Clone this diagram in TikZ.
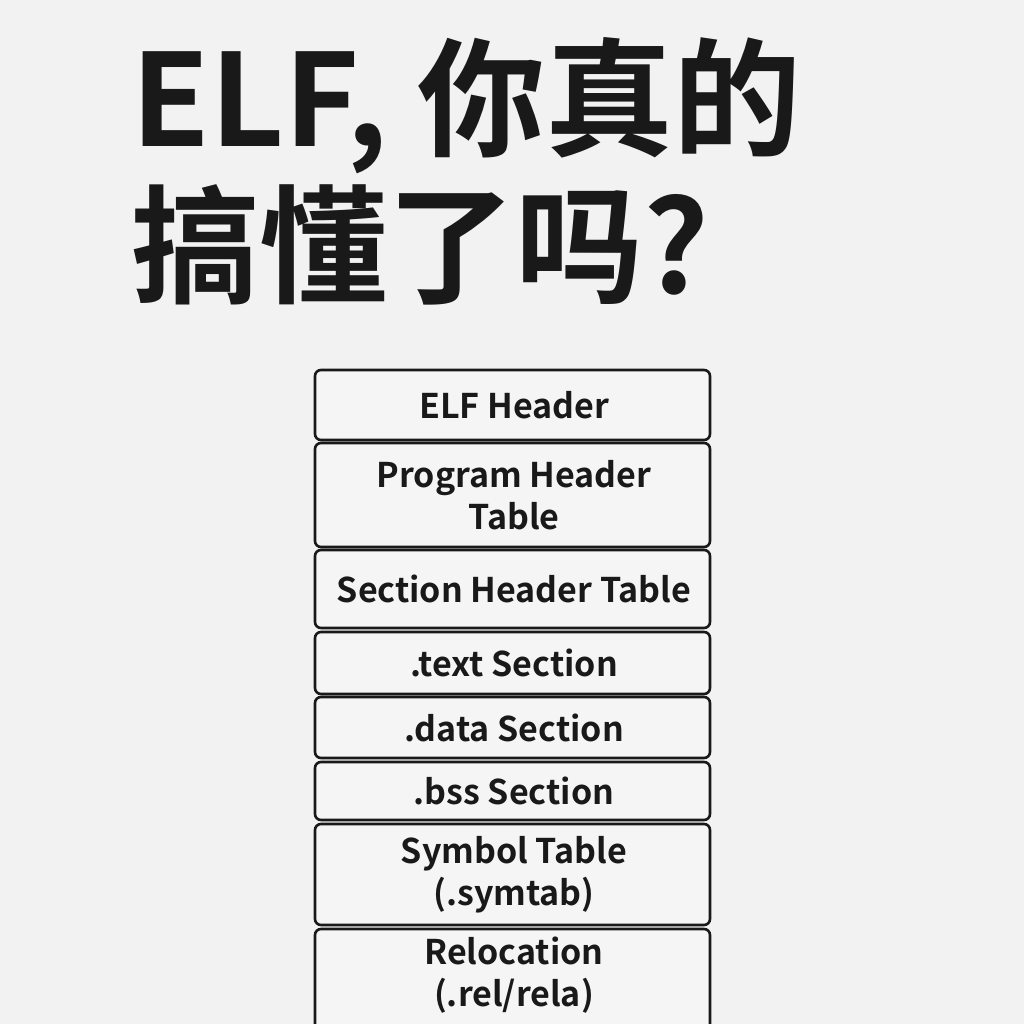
\documentclass[tikz,border=0pt]{standalone}
\usepackage{fontspec}
\setmainfont{Noto Sans CJK SC}[BoldFont={* Bold}]
\newfontfamily\cjkb{Noto Sans CJK SC Bold}
\begin{document}
\begin{tikzpicture}[x=1pt,y=-1pt,
  seg/.style={draw=black!90,line width=2.6pt,rounded corners=6pt,fill=white!96!black},
  lbl/.style={font=\cjkb\fontsize{34}{42}\selectfont,align=center,text=black!90}]
\fill[black!5] (0,0) rectangle (1024,1024);
\useasboundingbox (0,0) rectangle (1024,1024);
\node[anchor=west,font=\cjkb\fontsize{128}{130}\selectfont,text=black!90] (t1) at (128,106) {ELF, 你真的};
\node[anchor=west,font=\cjkb\fontsize{128}{130}\selectfont,text=black!90] (t2) at (128,245) {搞懂了吗?};
\foreach \n/\a/\b/\t in {
 b1/370/440/{ELF Header},
 b2/443/547/{Program Header\\Table},
 b3/550/628/{Section Header Table},
 b4/632/694/{.text Section},
 b5/697/758/{.data Section},
 b6/762/820/{.bss Section},
 b7/824/925/{Symbol Table\\(.symtab)},
 b8/929/1040/{Relocation\\(.rel/rela)}}{
  \draw[seg] (315,\a) rectangle (710,\b);
  \node[lbl] (\n) at (514,{(\a+min(\b,1022))/2}) {\t};
}
\end{tikzpicture}
\end{document}
